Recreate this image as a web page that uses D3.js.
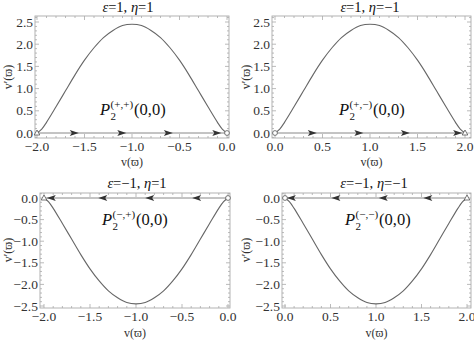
<!DOCTYPE html>
<html><head><meta charset="utf-8">
<script src="https://cdn.jsdelivr.net/npm/d3@7"></script>
<style>body{margin:0;background:#fff}svg{display:block}text{font-family:"Liberation Serif","Times New Roman","DejaVu Serif",serif}</style>
</head><body>
<svg id="c" width="474" height="357"></svg>
<script>
// ---- data ----
// curve: u = distance from the left zero, value = |v'|
const curveU = [0, 0.05, 0.1, 0.2, 0.3, 0.4, 0.5, 0.6, 0.7, 0.8, 0.9, 1.0, 1.1, 1.2, 1.3, 1.4, 1.5, 1.6, 1.7, 1.8, 1.9, 1.95, 2.0];
const curveAbs = [0, 0.09, 0.24, 0.59, 0.95, 1.31, 1.64, 1.92, 2.15, 2.31, 2.42, 2.45, 2.42, 2.31, 2.15, 1.92, 1.64, 1.31, 0.95, 0.59, 0.24, 0.09, 0];
const titles = ["ε=1, η=1", "ε=1, η=−1", "ε=−1, η=1", "ε=−1, η=−1"];
const labelSup = ["(+,+)", "(+,−)", "(−,+)", "(−,−)"];
const xStart = [-2, 0, -2, 0];        // left zero of the curve in each panel
const signs = [1, 1, -1, -1];         // sign of v'
const arrowsX = [[-1.56, -1.06, -0.57, -0.06], [0.44, 0.93, 1.42, 1.97], [-1.97, -1.41, -0.90, -0.39], [0.02, 0.51, 1.03, 1.52]];
const arrowDir = [1, 1, -1, -1];
const triangleX = [-2, 2, -2, 2];
const circleX = [0, 0, 0, 0];
const xTicks = [[-2, -1.5, -1, -0.5, 0], [0, 0.5, 1, 1.5, 2], [-2, -1.5, -1, -0.5, 0], [0, 0.5, 1, 1.5, 2]];
const yTicks = [[0, 0.5, 1, 1.5, 2, 2.5], [0, 0.5, 1, 1.5, 2, 2.5], [0, -0.5, -1, -1.5, -2, -2.5], [0, -0.5, -1, -1.5, -2, -2.5]];

// ---- layout ----
const panels = [
  {fx: [35, 229], fy: [16, 138], xd: [-2, 0], xr: [37, 227], yd: [0, 2.5], yr: [133, 22], tx: 128, ty: 12, lx: 100, ly: 115, yt: 77, xt: 166, ytx: 12},
  {fx: [272, 471], fy: [16, 138], xd: [0, 2], xr: [275, 465], yd: [0, 2.5], yr: [133, 22], tx: 370, ty: 12, lx: 339, ly: 115, yt: 77, xt: 166, ytx: 250},
  {fx: [40, 230], fy: [193, 308], xd: [-2, 0], xr: [44, 228], yd: [0, -2.5], yr: [198, 306], tx: 137, ty: 188, lx: 102, ly: 225, yt: 250, xt: 337, ytx: 12},
  {fx: [282, 471], fy: [193, 308], xd: [0, 2], xr: [285, 467], yd: [0, -2.5], yr: [198, 306], tx: 374, ty: 188, lx: 345, ly: 225, yt: 250, xt: 337, ytx: 250}
];

const svg = d3.select("#c");
const fmt = d3.format(".1f");
const frameCol = "#aaa";

panels.forEach((p, i) => {
  const x = d3.scaleLinear().domain(p.xd).range(p.xr);
  const y = d3.scaleLinear().domain(p.yd).range(p.yr);
  const g = svg.append("g");
  const x0 = p.fx[0], x1 = p.fx[1], y0 = p.fy[0], y1 = p.fy[1];

  // minor + major ticks (inward) on all four sides
  const xMin = x.invert(x0), xMax = x.invert(x1);
  const yLo = Math.min(y.invert(y0), y.invert(y1)), yHi = Math.max(y.invert(y0), y.invert(y1));
  const xAll = d3.range(Math.ceil(xMin * 10 - 1e-6), Math.floor(xMax * 10 + 1e-6) + 1).map(d => d / 10);
  const yAll = d3.range(Math.ceil(yLo * 10 - 1e-6), Math.floor(yHi * 10 + 1e-6) + 1).map(d => d / 10);
  const isMajor = v => Math.abs(v * 2 - Math.round(v * 2)) < 1e-6;
  xAll.forEach(v => {
    const L = isMajor(v) ? 4 : 2;
    g.append("line").attr("x1", x(v)).attr("x2", x(v)).attr("y1", y1).attr("y2", y1 - L).attr("stroke", frameCol).attr("stroke-width", 0.8);
    g.append("line").attr("x1", x(v)).attr("x2", x(v)).attr("y1", y0).attr("y2", y0 + L).attr("stroke", frameCol).attr("stroke-width", 0.8);
  });
  yAll.forEach(v => {
    const L = isMajor(v) ? 4 : 2;
    g.append("line").attr("y1", y(v)).attr("y2", y(v)).attr("x1", x0).attr("x2", x0 + L).attr("stroke", frameCol).attr("stroke-width", 0.8);
    g.append("line").attr("y1", y(v)).attr("y2", y(v)).attr("x1", x1).attr("x2", x1 - L).attr("stroke", frameCol).attr("stroke-width", 0.8);
  });
  g.append("rect").attr("x", x0).attr("y", y0).attr("width", x1 - x0).attr("height", y1 - y0)
    .attr("fill", "none").attr("stroke", frameCol).attr("stroke-width", 0.9);

  // tick labels
  xTicks[i].forEach(v => {
    g.append("text").attr("x", x(v)).attr("y", y1 + 13).attr("text-anchor", "middle")
      .attr("font-size", 13.5).attr("fill", "#333").text(fmt(v));
  });
  yTicks[i].forEach(v => {
    g.append("text").attr("x", x0 - 2).attr("y", y(v) + 4.5).attr("text-anchor", "end")
      .attr("font-size", 13.5).attr("fill", "#333").text(fmt(v));
  });

  // axis titles
  g.append("text").attr("x", (x0 + x1) / 2).attr("y", p.xt).attr("text-anchor", "middle").attr("font-size", 12).attr("fill", "#333")
    .text("v(ϖ)");
  g.append("text").attr("transform", `translate(${p.ytx},${p.yt}) rotate(-90)`).attr("text-anchor", "middle").attr("font-size", 12).attr("fill", "#333")
    .text("v′(ϖ)");

  // title
  g.append("text").attr("x", p.tx).attr("y", p.ty).attr("text-anchor", "middle").attr("font-size", 14.5).attr("fill", "#111")
    .html(titles[i].replace("ε", "<tspan font-style='italic'>ε</tspan>").replace("η", "<tspan font-style='italic'>η</tspan>"));

  // horizontal line along v'=0
  g.append("line").attr("x1", x(xStart[i])).attr("x2", x(xStart[i] + 2)).attr("y1", y(0)).attr("y2", y(0))
    .attr("stroke", "#888").attr("stroke-width", 1);

  // curve
  const pts = curveU.map((u, k) => [xStart[i] + u, signs[i] * curveAbs[k]]);
  g.append("path").datum(pts).attr("fill", "none").attr("stroke", "#666").attr("stroke-width", 1.1)
    .attr("d", d3.line().x(d => x(d[0])).y(d => y(d[1])).curve(d3.curveCatmullRom.alpha(0.5)));

  // arrows
  arrowsX[i].forEach(v => {
    const cx = x(v), cy = y(0), d = arrowDir[i];
    g.append("path").attr("d", `M${cx},${cy} L${cx - d * 9},${cy - 3} L${cx - d * 7},${cy} L${cx - d * 9},${cy + 3} Z`).attr("fill", "#333");
  });

  // fixed points
  g.append("circle").attr("cx", x(circleX[i])).attr("cy", y(0)).attr("r", 2.4).attr("fill", "#fff").attr("stroke", "#555").attr("stroke-width", 0.8);
  const tx = x(triangleX[i]), ty = y(0);
  g.append("path").attr("d", `M${tx},${ty - 3} L${tx + 2.8},${ty + 2} L${tx - 2.8},${ty + 2} Z`).attr("fill", "#fff").attr("stroke", "#555").attr("stroke-width", 0.8);

  // point label P_2^{(s,s)}(0,0)
  const lab = g.append("g").attr("fill", "#111");
  const tP = lab.append("text").attr("x", p.lx).attr("y", p.ly).attr("font-size", 16.5).attr("font-style", "italic").text("P");
  const wP = tP.node().getComputedTextLength();
  const sx = p.lx + wP + 0.5;
  const tSub = lab.append("text").attr("x", sx).attr("y", p.ly + 5).attr("font-size", 11).text("2");
  const tSup = lab.append("text").attr("x", sx).attr("y", p.ly - 7).attr("font-size", 11).text(labelSup[i]);
  const w = Math.max(tSub.node().getComputedTextLength(), tSup.node().getComputedTextLength());
  lab.append("text").attr("x", sx + w + 1).attr("y", p.ly).attr("font-size", 16.5).text("(0,0)");
});
</script>
</body></html>
